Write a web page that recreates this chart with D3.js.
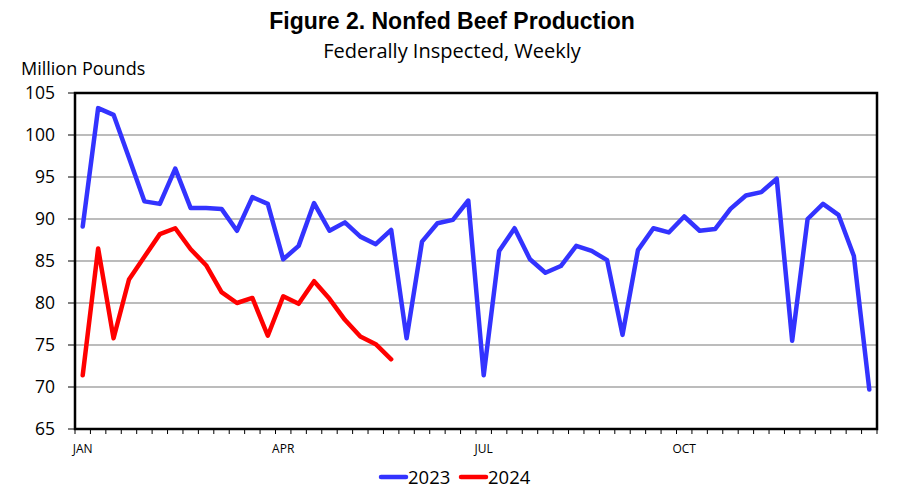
<!DOCTYPE html>
<html>
<head>
<meta charset="utf-8">
<script src="https://cdn.jsdelivr.net/npm/d3@7"></script>
<style>
  body { margin: 0; background: #fff; }
  svg { display: block; }
</style>
</head>
<body>
<script>
// weekly nonfed beef production, million pounds
const weeks = d3.range(52);
const monthLabels = [
  { week: 0, label: 'JAN' },
  { week: 13, label: 'APR' },
  { week: 26, label: 'JUL' },
  { week: 39, label: 'OCT' },
];
const yTicks = [65, 70, 75, 80, 85, 90, 95, 100, 105];

const prod2023 = [
  89.1, 103.2, 102.4, 97.3, 92.1, 91.8, 96.0, 91.3, 91.3, 91.2,
  88.6, 92.6, 91.8, 85.2, 86.8, 91.9, 88.6, 89.6, 87.9, 87.0,
  88.7, 75.8, 87.3, 89.5, 89.9, 92.2, 71.4, 86.2, 88.9, 85.2,
  83.6, 84.4, 86.8, 86.2, 85.1, 76.2, 86.3, 88.9, 88.4, 90.3,
  88.6, 88.8, 91.2, 92.8, 93.2, 94.8, 75.5, 90.0, 91.8, 90.5,
  85.6, 69.7,
];
const prod2024 = [
  71.4, 86.5, 75.8, 82.8, 85.5, 88.2, 88.9, 86.4, 84.5, 81.3,
  80.0, 80.6, 76.1, 80.8, 79.9, 82.6, 80.5, 78.0, 76.0, 75.1,
  73.3,
];

const series = [
  { name: '2023', color: '#3333ff', values: prod2023 },
  { name: '2024', color: '#ff0000', values: prod2024 },
];

const width = 909;
const height = 500;
const margin = { top: 93, right: 32, bottom: 71, left: 75 };

// scales work in page coordinates
const xScale = d3.scaleBand().domain(weeks).range([margin.left, width - margin.right]);
const yScale = d3.scaleLinear().domain([65, 105]).range([height - margin.bottom, margin.top]);

const svg = d3.select('body').append('svg')
  .attr('width', width)
  .attr('height', height);

svg.append('text')
  .attr('x', 452).attr('y', 29)
  .attr('text-anchor', 'middle')
  .attr('font-family', 'Liberation Sans, Arial, sans-serif')
  .attr('font-weight', 'bold')
  .attr('font-size', 23)
  .text('Figure 2. Nonfed Beef Production');

svg.append('text')
  .attr('x', 452).attr('y', 58)
  .attr('text-anchor', 'middle')
  .attr('font-family', 'Open Sans, sans-serif')
  .attr('font-size', 20)
  .text('Federally Inspected, Weekly');

svg.append('text')
  .attr('x', 21).attr('y', 75)
  .attr('font-family', 'Open Sans, sans-serif')
  .attr('font-size', 18)
  .text('Million Pounds');

// gridlines
svg.selectAll('line.grid')
  .data(yTicks.slice(1, -1))
  .enter()
  .append('line')
  .attr('class', 'grid')
  .attr('x1', margin.left).attr('x2', width - margin.right)
  .attr('y1', (d) => yScale(d)).attr('y2', (d) => yScale(d))
  .attr('stroke', '#a6a6a6')
  .attr('stroke-width', 1.5);

// y axis ticks and labels
svg.selectAll('line.ytick')
  .data(yTicks)
  .enter()
  .append('line')
  .attr('class', 'ytick')
  .attr('x1', margin.left - 7).attr('x2', margin.left)
  .attr('y1', (d) => yScale(d)).attr('y2', (d) => yScale(d))
  .attr('stroke', '#000');
svg.selectAll('text.ylabel')
  .data(yTicks)
  .enter()
  .append('text')
  .attr('class', 'ylabel')
  .attr('x', margin.left - 20)
  .attr('y', (d) => yScale(d) + 6)
  .attr('text-anchor', 'end')
  .attr('font-family', 'Open Sans, sans-serif')
  .attr('font-size', 17.5)
  .text((d) => d);

// x axis ticks at week boundaries
const baseY = height - margin.bottom;
svg.selectAll('line.xtick')
  .data(d3.range(53))
  .enter()
  .append('line')
  .attr('class', 'xtick')
  .attr('x1', (d) => margin.left + d * xScale.step())
  .attr('x2', (d) => margin.left + d * xScale.step())
  .attr('y1', baseY).attr('y2', baseY + 5)
  .attr('stroke', '#000')
  .attr('stroke-width', 1);
svg.selectAll('text.xlabel')
  .data(monthLabels)
  .enter()
  .append('text')
  .attr('class', 'xlabel')
  .attr('x', (d) => xScale(d.week) + xScale.bandwidth() / 2)
  .attr('y', baseY + 24)
  .attr('text-anchor', 'middle')
  .attr('font-family', 'Open Sans, sans-serif')
  .attr('font-size', 12)
  .text((d) => d.label);

// lines
const line = d3.line()
  .x((d, i) => xScale(i) + xScale.bandwidth() / 2)
  .y((d) => yScale(d));

svg.selectAll('path.series')
  .data(series)
  .enter()
  .append('path')
  .attr('class', 'series')
  .attr('d', (d) => line(d.values))
  .attr('fill', 'none')
  .attr('stroke', (d) => d.color)
  .attr('stroke-width', 4.5)
  .attr('stroke-linejoin', 'round')
  .attr('stroke-linecap', 'round');

// plot border
svg.append('rect')
  .attr('x', margin.left).attr('y', margin.top)
  .attr('width', width - margin.left - margin.right)
  .attr('height', height - margin.top - margin.bottom)
  .attr('fill', 'none')
  .attr('stroke', '#000')
  .attr('stroke-width', 2.5);

// legend
const legend = svg.append('g').attr('transform', 'translate(381,477)');
const item = legend.selectAll('g')
  .data(series)
  .enter()
  .append('g')
  .attr('transform', (d, i) => `translate(${i * 80},0)`);
item.append('line')
  .attr('x1', 0).attr('x2', 25)
  .attr('stroke', (d) => d.color)
  .attr('stroke-width', 4.5)
  .attr('stroke-linecap', 'round');
item.append('text')
  .attr('x', 27).attr('y', 7)
  .attr('font-family', 'Open Sans, sans-serif')
  .attr('font-size', 18.5)
  .text((d) => d.name);
</script>
</body>
</html>
